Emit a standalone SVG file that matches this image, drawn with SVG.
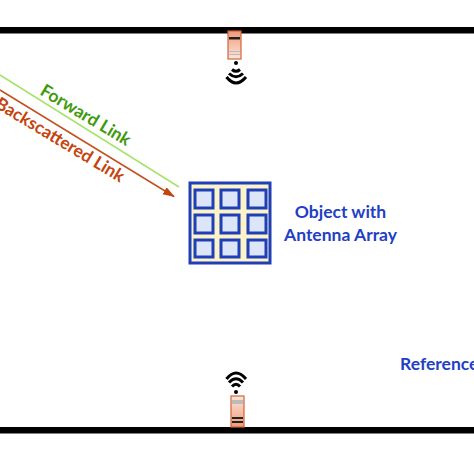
<svg xmlns="http://www.w3.org/2000/svg" width="474" height="474" viewBox="0 0 474 474">
<style>
.wall{fill:#000}
.t{font-family:"Lato","Liberation Sans",sans-serif;font-weight:700;font-size:17.500px}
.blue{fill:#1f3fc4}
.cell{fill:#dde6f8;stroke:#1f3fb8;stroke-width:3}
.wave{fill:none;stroke:#000;stroke-width:3}
</style>
<defs>
<linearGradient id="gt" x1="0" y1="0" x2="0" y2="1"><stop offset="0" stop-color="#f09a78"/><stop offset="1" stop-color="#fbe6dc"/></linearGradient>
<linearGradient id="gb" x1="0" y1="1" x2="0" y2="0"><stop offset="0" stop-color="#f09a78"/><stop offset="1" stop-color="#fbe6dc"/></linearGradient>
<marker id="ah" markerWidth="12" markerHeight="10" refX="11" refY="4" orient="auto" markerUnits="userSpaceOnUse"><path d="M0 0L12 4L0 8z" fill="#c5440e"/></marker>
</defs>
<rect width="474" height="474" fill="#fff"/>
<rect class="wall" x="0" y="27" width="474" height="6.500"/>
<rect class="wall" x="0" y="427" width="474" height="6.500"/>
<g id="connectors">
<line x1="0" y1="75" x2="179" y2="187" stroke="#a6e36a" stroke-width="1.500"/>
<line x1="0" y1="90" x2="174" y2="196.500" stroke="#c0531f" stroke-width="1.500" marker-end="url(#ah)"/>
</g>
<g id="reader-top">
<rect x="228" y="31" width="13" height="28" fill="url(#gt)" stroke="#d0643c" stroke-width="1.200"/>
<rect x="229" y="37" width="11" height="2.500" fill="#222"/>
<rect x="229" y="51" width="11" height="1" fill="#bbb"/>
<rect x="229" y="54" width="11" height="1" fill="#bbb"/>
<circle cx="236" cy="63" r="2" fill="#000"/>
<path class="wave" d="M232 69.500Q236 73 240 69.500M229 73.500Q236 80 243 73.500M226.500 77Q236 89 246 77"/>
</g>
<g id="reader-bottom">
<rect x="231" y="396" width="13" height="31" fill="url(#gb)" stroke="#d0643c" stroke-width="1.200"/>
<rect x="232" y="400" width="11" height="4" fill="#bbb"/>
<rect x="232" y="417" width="11" height="2" fill="#222"/>
<rect x="232" y="421" width="11" height="2" fill="#222"/>
<circle cx="236" cy="392" r="2" fill="#000"/>
<path class="wave" d="M232 386.500Q236 382 240 386.500M229 382.500Q236 375 243 382.500M226.500 379Q236 367 246 379"/>
</g>
<g id="antenna-array">
<rect x="190" y="183" width="80" height="80" fill="#fdf3c8" stroke="#1f3fb8" stroke-width="3"/>
<rect class="cell" x="195" y="190" width="18" height="18"/>
<rect class="cell" x="221" y="190" width="18" height="18"/>
<rect class="cell" x="248" y="190" width="18" height="18"/>
<rect class="cell" x="195" y="215" width="18" height="18"/>
<rect class="cell" x="221" y="215" width="18" height="18"/>
<rect class="cell" x="248" y="215" width="18" height="18"/>
<rect class="cell" x="195" y="240" width="18" height="17"/>
<rect class="cell" x="221" y="240" width="18" height="17"/>
<rect class="cell" x="248" y="240" width="18" height="17"/>
</g>
<g id="labels">
<text class="t blue" x="340.500" y="218" text-anchor="middle">Object with</text>
<text class="t blue" x="340.500" y="241" text-anchor="middle">Antenna Array</text>
<text class="t blue" x="400" y="370">Reference</text>
<text class="t" fill="#3f9a0c" transform="translate(39 94) rotate(31)">Forward Link</text>
<text class="t" fill="#c5440e" transform="translate(-6 107) rotate(31)">Backscattered Link</text>
</g>
</svg>
